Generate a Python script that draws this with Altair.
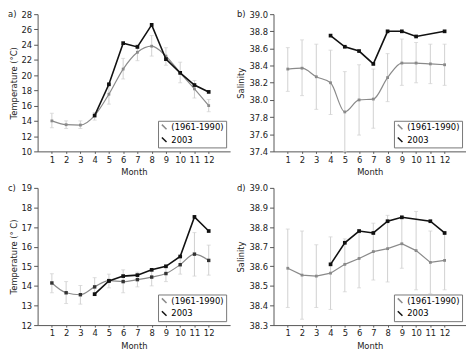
import altair as alt
import pandas as pd

months = list(range(1, 13))
series_names = ["(1961-1990)", "2003"]

# Panel a: temperature
a_clim = [14.0, 13.5, 13.45, 14.7, 17.5, 20.8, 23.0, 23.8, 22.5, 20.3, 18.2, 16.0]
a_lo = [13.1, 13.0, 13.0, 14.1, 16.2, 19.5, 21.9, 22.5, 21.3, 19.0, 17.0, 15.2]
a_hi = [15.0, 14.0, 14.0, 15.1, 18.8, 22.2, 24.0, 25.2, 23.6, 21.7, 19.3, 16.8]
a_obs_m = [4, 5, 6, 7, 8, 9, 10, 11, 12]
a_obs = [14.7, 18.8, 24.2, 23.7, 26.6, 22.1, 20.3, 18.7, 17.8]

# Panel b: salinity
b_clim = [38.36, 38.37, 38.27, 38.20, 37.86, 38.00, 38.01, 38.26, 38.43, 38.43, 38.42, 38.41]
b_lo = [38.10, 38.05, 37.89, 37.83, 37.40, 37.59, 37.67, 37.98, 38.17, 38.20, 38.19, 38.17]
b_hi = [38.61, 38.70, 38.65, 38.58, 38.33, 38.41, 38.36, 38.54, 38.71, 38.67, 38.65, 38.65]
b_obs_m = [4, 5, 6, 7, 8, 9, 10, 12]
b_obs = [38.75, 38.62, 38.57, 38.42, 38.80, 38.80, 38.74, 38.80]

# Panel c: temperature
c_clim = [14.15, 13.65, 13.55, 13.95, 14.27, 14.22, 14.32, 14.45, 14.63, 15.08, 15.62, 15.30]
c_lo = [13.65, 13.10, 13.07, 13.50, 13.90, 13.65, 13.95, 14.00, 14.22, 14.60, 14.50, 14.55]
c_hi = [14.62, 14.22, 14.02, 14.42, 14.60, 14.82, 14.70, 14.80, 14.98, 15.50, 16.72, 16.08]
c_obs_m = [4, 5, 6, 7, 8, 9, 10, 11, 12]
c_obs = [13.58, 14.25, 14.50, 14.55, 14.82, 15.00, 15.50, 17.52, 16.80]

# Panel d: salinity
d_clim = [38.59, 38.555, 38.55, 38.565, 38.61, 38.64, 38.675, 38.69, 38.715, 38.68, 38.62, 38.63]
d_lo = [38.39, 38.33, 38.39, 38.38, 38.47, 38.49, 38.53, 38.52, 38.59, 38.48, 38.46, 38.48]
d_hi = [38.79, 38.78, 38.71, 38.75, 38.74, 38.77, 38.82, 38.86, 38.85, 38.88, 38.78, 38.77]
d_obs_m = [4, 5, 6, 7, 8, 9, 11, 12]
d_obs = [38.61, 38.72, 38.78, 38.77, 38.83, 38.85, 38.83, 38.77]

FONT = "DejaVu Sans"
W, H = 195, 139
GRAY_LINE = "#8a8a8a"
ERR = "#d0d0d0"


def panel(letter, letter_x, clim, lo, hi, obs_m, obs, ydom, yvals, yfmt, ytitle, smooth,
          clim_marker_color, clim_marker_size):
    clim_df = pd.DataFrame({"Month": months, "value": clim, "lo": lo, "hi": hi,
                            "series": series_names[0]})
    obs_df = pd.DataFrame({"Month": obs_m, "value": obs, "series": series_names[1]})

    xscale = alt.Scale(domain=[0, 13.5], nice=False)
    xaxis = alt.Axis(values=months, title="Month", labelAngle=0, grid=False,
                     labelOverlap=False, labelBound=False, tickCount=12, tickSize=2)
    yscale = alt.Scale(domain=ydom, nice=False, zero=False)
    yaxis = alt.Axis(values=yvals, format=yfmt, title=ytitle, grid=False,
                     labelOverlap=False, labelBound=False, tickCount=len(yvals))

    def X():
        return alt.X("Month:Q", scale=xscale, axis=xaxis)

    def Y(f):
        return alt.Y(f + ":Q", scale=yscale, axis=yaxis)

    color = alt.Color("series:N",
                      scale=alt.Scale(domain=series_names, range=[GRAY_LINE, "#111111"]),
                      legend=alt.Legend(title=None, orient="bottom-right",
                                        symbolType="M -1 -1 L 1 1",
                                        symbolStrokeWidth=1.5, symbolSize=22,
                                        fillColor="white", strokeColor="#777777",
                                        padding=2, offset=4, labelFontSize=8.5,
                                        labelFont=FONT, rowPadding=1, labelOffset=3))

    err = alt.Chart(clim_df).mark_rule(color=ERR, strokeWidth=1).encode(
        x=X(), y=Y("lo"), y2="hi:Q")
    cap_lo = alt.Chart(clim_df).mark_tick(color=ERR, thickness=1, size=4, orient="horizontal").encode(
        x=X(), y=Y("lo"))
    cap_hi = alt.Chart(clim_df).mark_tick(color=ERR, thickness=1, size=4, orient="horizontal").encode(
        x=X(), y=Y("hi"))
    cline = alt.Chart(clim_df).mark_line(strokeWidth=1.2, interpolate=smooth).encode(
        x=X(), y=Y("value"), color=color)
    cpts = alt.Chart(clim_df).mark_point(shape="square", filled=True, size=clim_marker_size,
                                         opacity=1, color=clim_marker_color).encode(
        x=X(), y=Y("value"))
    oline = alt.Chart(obs_df).mark_line(strokeWidth=1.6).encode(
        x=X(), y=Y("value"), color=color)
    opts = alt.Chart(obs_df).mark_point(shape="square", filled=True, size=14, opacity=1,
                                        color="#111111").encode(
        x=X(), y=Y("value"))
    lab = alt.Chart(pd.DataFrame({"t": [letter]})).mark_text(
        align="left", baseline="middle", fontSize=8.5, font=FONT, color="#222").encode(
        x=alt.value(letter_x), y=alt.value(0), text="t:N")
    return alt.layer(err, cap_lo, cap_hi, cline, cpts, oline, opts, lab).properties(
        width=W, height=H).resolve_scale(color="shared")


pa = panel("a)", -30, a_clim, a_lo, a_hi, a_obs_m, a_obs, [10, 28], list(range(10, 29, 2)), "d",
           "Temperature (°C)", "monotone", "#8a8a8a", 8)
pb = panel("b)", -37, b_clim, b_lo, b_hi, b_obs_m, b_obs, [37.4, 39.0],
           [37.4, 37.6, 37.8, 38.0, 38.2, 38.4, 38.6, 38.8, 39.0], ".1f",
           "Salinity", "monotone", "#8a8a8a", 8)
pc = panel("c)", -30, c_clim, c_lo, c_hi, c_obs_m, c_obs, [12, 19], list(range(12, 20)), "d",
           "Temperature (° C)", "monotone", "#333333", 12)
pd_ = panel("d)", -37, d_clim, d_lo, d_hi, d_obs_m, d_obs, [38.3, 39.0],
            [38.3, 38.4, 38.5, 38.6, 38.7, 38.8, 38.9, 39.0], ".1f",
            "Salinity", "linear", "#8a8a8a", 8)

top = alt.hconcat(pa, pb, spacing=7).resolve_scale(color="independent").resolve_legend(color="independent")
bot = alt.hconcat(pc, pd_, spacing=7).resolve_scale(color="independent").resolve_legend(color="independent")

chart = alt.vconcat(top, bot, spacing=8).resolve_scale(color="independent").resolve_legend(
    color="independent").properties(padding=0).configure_view(stroke=None).configure_axis(
    domainColor="#555555", tickColor="#555555", labelColor="#222222", titleColor="#222222",
    labelFont=FONT, titleFont=FONT, labelFontSize=8.5, titleFontSize=8.5, titleFontWeight="normal",
    tickSize=4, titlePadding=3, labelPadding=2, labelOverlap=False
).configure_axisX(titlePadding=4)

chart.save("out.html", embed_options={"renderer": "svg", "actions": False})
